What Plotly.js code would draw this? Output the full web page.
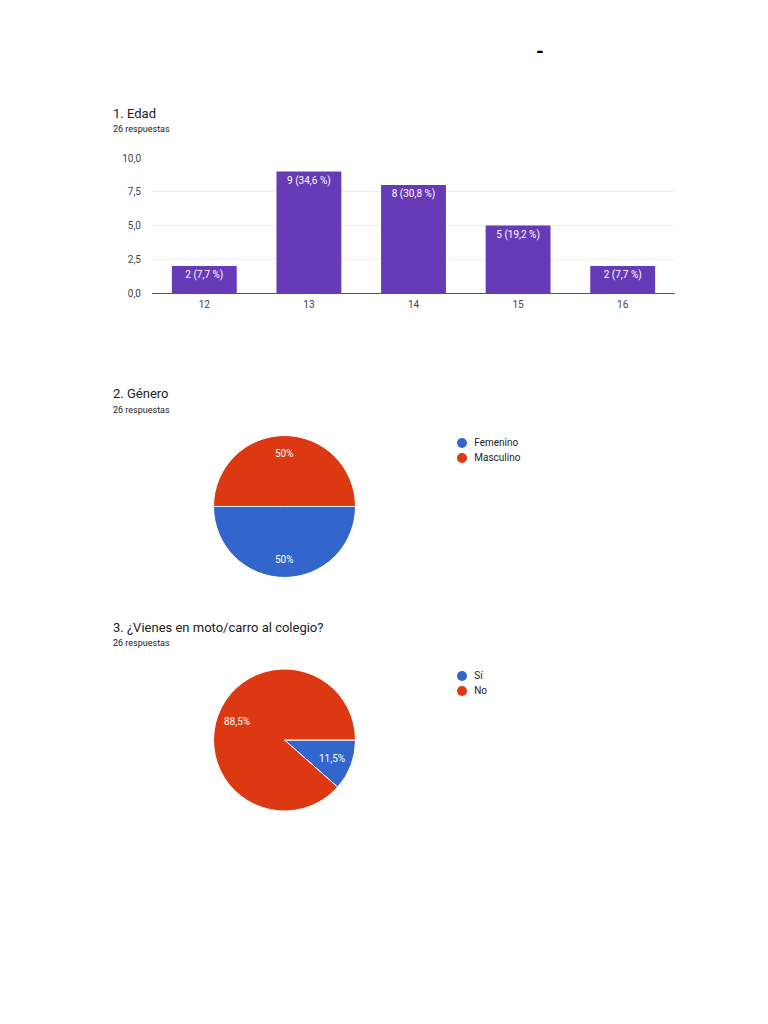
<!DOCTYPE html>
<html>
<head>
<meta charset="utf-8">
<script src="https://cdn.plot.ly/plotly-3.0.1.min.js"></script>
<style>
  html, body { margin: 0; padding: 0; background: #fff; }
  #page { width: 768px; height: 1024px; }
</style>
</head>
<body>
<div id="page"></div>
<script>
// ---- data ----
var edades = ['12', '13', '14', '15', '16'];
var edadCuentas = [2, 9, 8, 5, 2];

var generoLabels = ['Femenino', 'Masculino'];
var generoCuentas = [13, 13];

var motoLabels = ['Sí', 'No'];
var motoCuentas = [3, 23];

var yTicks = [0, 2.5, 5, 7.5, 10];

var preguntas = ['1. Edad', '2. Género', '3. ¿Vienes en moto/carro al colegio?'];
var respuestas = '26 respuestas';

var azul = '#3366cc', rojo = '#dc3912', morado = '#673ab7';
var W = 768, H = 1024;
function px(x) { return x / W; }
function py(y) { return 1 - y / H; }

// bar labels like "9 (34,6 %)"
var total = edadCuentas.reduce(function (a, b) { return a + b; }, 0);
var barText = edadCuentas.map(function (v) {
  return v + ' (' + (v / total * 100).toFixed(1).replace('.', ',') + ' %)';
});

var barras = {
  type: 'bar',
  x: edades,
  y: edadCuentas,
  text: barText,
  textposition: 'inside',
  insidetextanchor: 'end',
  constraintext: 'none',
  textfont: {color: '#fff', size: 10},
  marker: {color: morado},
  width: 0.62,
  showlegend: false,
  hoverinfo: 'skip',
  xaxis: 'x', yaxis: 'y'
};

// pies: centre (pixels) and radius
var R = 71;
var pieCentros = [[284.5, 506.5], [284.5, 740]];

function pie(labels, values, c) {
  return {
    type: 'pie',
    labels: labels,
    values: values,
    sort: false,
    direction: 'clockwise',
    rotation: 90,
    textinfo: 'none',
    marker: {colors: [azul, rojo], line: {color: '#fff', width: 1}},
    domain: {x: [px(c[0] - R), px(c[0] + R)], y: [py(c[1] + R), py(c[1] - R)]},
    showlegend: false,
    hoverinfo: 'skip'
  };
}

// percent labels placed like Google Forms (about 3/4 of the radius)
function pieLabels(values, c) {
  var sum = values.reduce(function (a, b) { return a + b; }, 0);
  var ang = 90, out = [];
  values.forEach(function (v) {
    var span = v / sum * 360;
    var mid = (ang + span / 2) * Math.PI / 180;
    var p = v / sum * 100;
    var txt = (Math.abs(p - Math.round(p)) < 0.05 ? Math.round(p).toString() : p.toFixed(1).replace('.', ',')) + '%';
    out.push({
      xref: 'paper', yref: 'paper',
      x: px(c[0] + Math.sin(mid) * R * 0.72),
      y: py(c[1] - Math.cos(mid) * R * 0.74),
      xanchor: 'center', yanchor: 'middle', showarrow: false,
      text: txt, font: {size: 10, color: '#fff'}
    });
    ang += span;
  });
  return out;
}

// legends drawn as round markers on hidden axes
function leyenda(labels, ax, ay) {
  return {
    type: 'scatter', mode: 'markers+text',
    x: labels.map(function () { return 0; }),
    y: labels.map(function (l, i) { return i; }),
    text: labels,
    texttemplate: '\u00a0\u00a0%{text}',
    textposition: 'middle right',
    textfont: {size: 10, color: '#222'},
    marker: {color: [azul, rojo], size: 10, symbol: 'circle'},
    xaxis: ax, yaxis: ay,
    showlegend: false,
    hoverinfo: 'skip',
    cliponaxis: false
  };
}

var data = [barras,
  pie(generoLabels, generoCuentas, pieCentros[0]),
  pie(motoLabels, motoCuentas, pieCentros[1]),
  leyenda(generoLabels, 'x2', 'y2'),
  leyenda(motoLabels, 'x3', 'y3')
];

var annotations = [];
var tituloY = [113, 393, 627];
var subY = [129, 410, 643];
for (var i = 0; i < preguntas.length; i++) {
  annotations.push({
    xref: 'paper', yref: 'paper', x: px(111), y: py(tituloY[i]),
    xanchor: 'left', yanchor: 'middle', showarrow: false,
    text: preguntas[i], font: {size: 13, color: '#212121'}
  });
  annotations.push({
    xref: 'paper', yref: 'paper', x: px(111), y: py(subY[i]),
    xanchor: 'left', yanchor: 'middle', showarrow: false,
    text: respuestas, font: {size: 9, color: '#212121'}
  });
}
annotations.push({
  xref: 'paper', yref: 'paper', x: px(540), y: py(51),
  xanchor: 'center', yanchor: 'middle', showarrow: false,
  text: '<b>-</b>', font: {size: 20, color: '#000'}
});
annotations = annotations.concat(pieLabels(generoCuentas, pieCentros[0]),
                                 pieLabels(motoCuentas, pieCentros[1]));

function hiddenX(x0) {
  return {domain: [px(x0 - 10), px(x0 + 10)], range: [-1, 1], visible: false, fixedrange: true};
}
function hiddenY(y0, anchor) {
  // item 0 at y0, item 1 at y0 + 15 px
  return {domain: [py(y0 + 22.5), py(y0 - 7.5)], range: [1.5, -0.5], visible: false, fixedrange: true, anchor: anchor};
}

var layout = {
  width: W, height: H,
  margin: {l: 0, r: 0, t: 0, b: 0},
  paper_bgcolor: '#fff',
  plot_bgcolor: 'rgba(0,0,0,0)',
  font: {family: 'Roboto, Arial, sans-serif', color: '#444'},
  separators: ',.',
  bargap: 0.38,
  showlegend: false,
  xaxis: {
    domain: [px(152), px(675)],
    anchor: 'y',
    type: 'category',
    showgrid: false,
    zeroline: false,
    showline: false,
    ticks: '',
    ticklabelstandoff: 4,
    tickfont: {size: 10, color: '#444'},
    fixedrange: true
  },
  yaxis: {
    domain: [py(293), py(158)],
    anchor: 'x',
    range: [0, 10],
    tickvals: yTicks,
    tickformat: '.1f',
    showgrid: true,
    gridcolor: '#eeeeee',
    zeroline: true,
    zerolinecolor: '#555',
    zerolinewidth: 1,
    showline: false,
    ticks: '',
    ticklabelstandoff: 10,
    tickfont: {size: 10, color: '#444'},
    fixedrange: true
  },
  xaxis2: Object.assign({anchor: 'y2'}, hiddenX(462)),
  yaxis2: hiddenY(443, 'x2'),
  xaxis3: Object.assign({anchor: 'y3'}, hiddenX(462)),
  yaxis3: hiddenY(676, 'x3'),
  annotations: annotations
};

Plotly.newPlot('page', data, layout, {displayModeBar: false, staticPlot: true});
</script>
</body>
</html>
